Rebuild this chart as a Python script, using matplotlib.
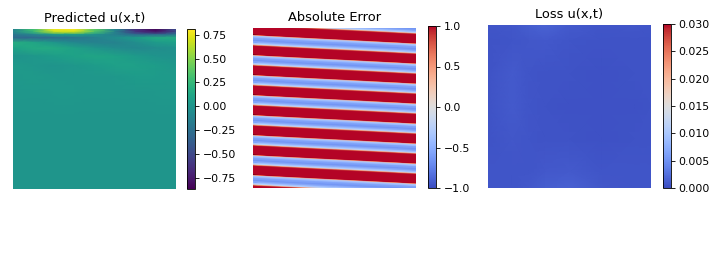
import numpy as np
import matplotlib
matplotlib.use("Agg")
import matplotlib.pyplot as plt

# ---------------- data ----------------
# Panel 1: predicted u(x,t) sampled on a coarse grid (rows = depth fraction from top)
pred_rows = [0.0, 0.02, 0.035, 0.055, 0.085, 0.12, 0.17, 0.23, 0.30, 0.40, 0.55, 1.0]
pred_cols = [0.0, 0.125, 0.25, 0.375, 0.5, 0.625, 0.75, 0.875, 1.0]
pred_vals = [
    [-0.10, 0.30, 0.78, 0.80, 0.40, -0.10, -0.65, -0.85, -0.50],
    [-0.10, 0.25, 0.65, 0.68, 0.32, -0.12, -0.58, -0.75, -0.45],
    [-0.20, -0.10, 0.05, 0.08, -0.02, -0.15, -0.30, -0.32, -0.22],
    [-0.30, -0.30, -0.28, -0.22, -0.15, -0.05, 0.05, 0.15, 0.15],
    [0.18, 0.12, 0.02, -0.08, -0.12, -0.12, -0.05, 0.05, 0.08],
    [0.10, 0.15, 0.15, 0.10, 0.02, -0.05, -0.08, -0.05, -0.02],
    [-0.02, 0.02, 0.06, 0.10, 0.12, 0.10, 0.05, 0.00, -0.02],
    [0.04, 0.02, 0.00, 0.02, 0.05, 0.08, 0.08, 0.06, 0.03],
    [0.03, 0.04, 0.03, 0.02, 0.02, 0.03, 0.05, 0.05, 0.04],
    [0.02, 0.02, 0.03, 0.03, 0.02, 0.02, 0.02, 0.03, 0.03],
    [0.01, 0.01, 0.01, 0.01, 0.01, 0.01, 0.01, 0.01, 0.01],
    [0.01, 0.01, 0.01, 0.01, 0.01, 0.01, 0.01, 0.01, 0.01],
]
pred_vmin, pred_vmax = -0.865, 0.81
pred_ticks = [-0.75, -0.5, -0.25, 0.0, 0.25, 0.5, 0.75]

# Panel 2: absolute error stripes - one period profile (phase, value)
err_phase = [0.00, 0.03, 0.46, 0.49, 0.52, 0.62, 0.74, 0.86, 0.93, 0.97]
err_value = [0.90, 1.00, 1.00, 0.50, -0.30, -0.55, -0.65, -0.40, -0.20, 0.50]
err_periods = 8          # stripes over the image height
err_phase_top_left = -0.1
err_shift_right = 0.42   # periods the stripes drop from left to right
err_ticks = [-1.0, -0.5, 0.0, 0.5, 1.0]

# Panel 3: loss field
loss_rows = [0.0, 0.1, 0.3, 0.5, 0.7, 0.9, 1.0]
loss_cols = [0.0, 0.15, 0.25, 0.35, 0.5, 0.7, 0.9, 1.0]
loss_vals = [
    [0.0006, 0.0008, 0.0012, 0.0016, 0.0010, 0.0007, 0.0008, 0.0006],
    [0.0005, 0.0006, 0.0008, 0.0009, 0.0006, 0.0005, 0.0005, 0.0005],
    [0.0005, 0.0010, 0.0007, 0.0005, 0.0005, 0.0004, 0.0005, 0.0005],
    [0.0005, 0.0010, 0.0006, 0.0005, 0.0004, 0.0004, 0.0004, 0.0005],
    [0.0005, 0.0008, 0.0006, 0.0005, 0.0005, 0.0004, 0.0005, 0.0005],
    [0.0006, 0.0006, 0.0007, 0.0009, 0.0010, 0.0006, 0.0006, 0.0006],
    [0.0006, 0.0007, 0.0009, 0.0012, 0.0015, 0.0008, 0.0007, 0.0006],
]
loss_ticks = [0.0, 0.005, 0.01, 0.015, 0.02, 0.025, 0.03]

titles = ["Predicted u(x,t)", "Absolute Error", "Loss u(x,t)"]

# ---------------- layout ----------------
W, H = 715, 261
fig = plt.figure(figsize=(W / 100, H / 100), dpi=100)

def box(x0, y0, x1, y1):
    return [x0 / W, 1 - y1 / H, (x1 - x0) / W, (y1 - y0) / H]

img_boxes = [box(13, 29, 176, 189), box(253, 28, 416, 188), box(488, 25, 651, 188)]
cb_boxes = [box(187, 29, 195, 189), box(428, 26, 436, 188), box(663, 24, 671, 188)]

TFS = 9.4
KFS = 7.8

def style_cbar(cb, ticks, fmt):
    cb.set_ticks(ticks)
    cb.set_ticklabels([fmt(t) for t in ticks])
    cb.ax.tick_params(labelsize=KFS, length=2.7, width=0.62, pad=2.7)
    cb.outline.set_linewidth(0.62)

def minus(s):
    return s.replace("-", "\u2212")

# Panel 1
ax = fig.add_axes(img_boxes[0])
X, Y = np.meshgrid(pred_cols, pred_rows)
m1 = ax.pcolormesh(X, Y, np.array(pred_vals), cmap="viridis", shading="gouraud",
                   vmin=pred_vmin, vmax=pred_vmax)
ax.set_xlim(0, 1); ax.set_ylim(1, 0); ax.axis("off")
ax.set_title(titles[0], fontsize=TFS, pad=4.7)
cax = fig.add_axes(cb_boxes[0])
cb = fig.colorbar(m1, cax=cax)
style_cbar(cb, pred_ticks, lambda t: minus(f"{t:.2f}"))

# Panel 2: sheared mesh, rows follow stripe direction
ax = fig.add_axes(img_boxes[1])
ph = []
vals = []
for p in range(-2, err_periods + 2):
    for f, v in zip(err_phase, err_value):
        ph.append(p + f)
        vals.append(v)
ph = np.array(ph)
y_left = (ph + err_phase_top_left) / err_periods
y_right = y_left + err_shift_right / err_periods
Xe = np.column_stack([np.zeros_like(y_left), np.ones_like(y_left)])
Ye = np.column_stack([y_left, y_right])
Ce = np.column_stack([vals, vals])
m2 = ax.pcolormesh(Xe, Ye, Ce, cmap="coolwarm", shading="gouraud", vmin=-1, vmax=1)
ax.set_xlim(0, 1); ax.set_ylim(1, 0); ax.axis("off")
ax.set_title(titles[1], fontsize=TFS, pad=4.7)
cax = fig.add_axes(cb_boxes[1])
cb = fig.colorbar(m2, cax=cax)
style_cbar(cb, err_ticks, lambda t: minus(f"{t:.1f}"))

# Panel 3
ax = fig.add_axes(img_boxes[2])
X, Y = np.meshgrid(loss_cols, loss_rows)
m3 = ax.pcolormesh(X, Y, np.array(loss_vals), cmap="coolwarm", shading="gouraud",
                   vmin=0, vmax=0.03)
ax.set_xlim(0, 1); ax.set_ylim(1, 0); ax.axis("off")
ax.set_title(titles[2], fontsize=TFS, pad=4.7)
cax = fig.add_axes(cb_boxes[2])
cb = fig.colorbar(m3, cax=cax)
style_cbar(cb, loss_ticks, lambda t: f"{t:.3f}")

fig.savefig("out.png", dpi=100, facecolor="white")
